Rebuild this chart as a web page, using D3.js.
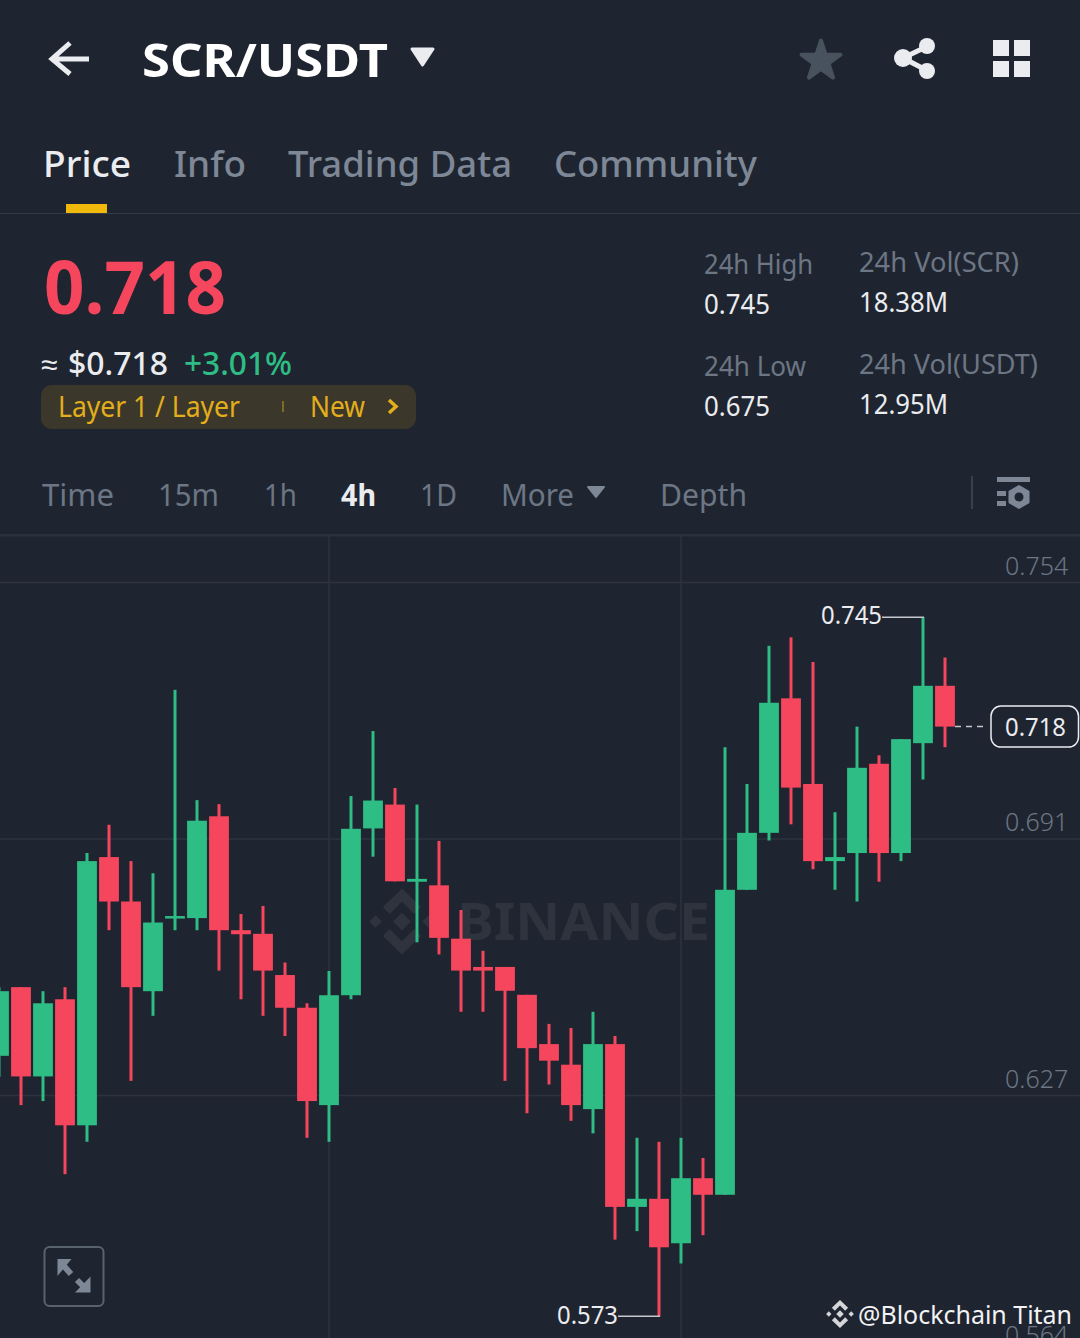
<!DOCTYPE html>
<html lang="en">
<head>
    <meta charset="utf-8" />
    <title>SCR/USDT</title>
    <script src="https://d3js.org/d3.v7.min.js"></script>
    <style>
        html, body { margin: 0; padding: 0; background: #1f2530; overflow: hidden; }
        svg { display: block; }
        text { font-family: "Noto Sans", sans-serif; }
    </style>
</head>
<body>
    <script>
        // 4h candles, oldest first
        const open  = [.6367,.6537,.6316,.6507,.6195,.6859,.6749,.6527,.6709,.6708,.6960,.6678,.6669,.6567,.6486,.6245,.6517,.6930,.6989,.6798,.6789,.6657,.6587,.6587,.6518,.6396,.6345,.6235,.6396,.5993,.6013,.5903,.6064,.6023,.6778,.6919,.7252,.7040,.6849,.6869,.7090,.6869,.7141,.7283];
        const high  = [.6537,.6537,.6527,.6537,.6869,.6939,.6849,.6819,.7273,.7000,.6990,.6718,.6738,.6598,.6497,.6577,.7010,.7171,.7030,.6989,.6899,.6728,.6627,.6587,.6518,.6446,.6436,.6476,.6416,.6164,.6154,.6164,.6114,.7131,.7040,.7382,.7403,.7342,.6970,.7182,.7111,.7151,.7453,.7353];
        const low   = [.6315,.6245,.6255,.6074,.6154,.6678,.6305,.6466,.6678,.6678,.6578,.6507,.6466,.6416,.6164,.6154,.6507,.6860,.6799,.6648,.6618,.6476,.6476,.6305,.6225,.6296,.6206,.6175,.5912,.5933,.5722,.5853,.5923,.6023,.6778,.6900,.6940,.6829,.6778,.6749,.6798,.6849,.7051,.7131];
        const close = [.6527,.6316,.6497,.6195,.6849,.6749,.6537,.6697,.6713,.6949,.6678,.6668,.6578,.6486,.6255,.6517,.6929,.6999,.6799,.6805,.6659,.6578,.6578,.6528,.6386,.6355,.6245,.6396,.5993,.6013,.5893,.6064,.6023,.6778,.6919,.7241,.7031,.6849,.6859,.7080,.6869,.7151,.7283,.7182];

        const tickValues = [0.754, 0.6905, 0.627, 0.5635];
        const tickLabels = ["0.754", "0.691", "0.627", "0.564"];
        const gridCandles = [15, 31];

        const maxLabel = "0.745";
        const minLabel = "0.573";
        const lastLabel = "0.718";

        const tabs = ["Price", "Info", "Trading Data", "Community"];
        const intervals = ["Time", "15m", "1h", "4h", "1D", "More", "Depth"];

        const width = 1080, height = 1338;
        const bg = "#1f2530", up = "#2ebd85", down = "#f6465d", white = "#eaecef";
        const grey = "#7d8796", dim = "#6c7684", gridColor = "#2d333e", gold = "#e3ae1c";

        const svg = d3.select("body").append("svg")
            .attr("width", width)
            .attr("height", height);

        svg.append("rect").attr("width", width).attr("height", height).attr("fill", bg);

        let label = (text, x, y, size, fill, opts = {}) => {
            const t = svg.append("text")
                .attr("x", x)
                .attr("y", y)
                .attr("font-size", size)
                .attr("font-weight", opts.weight || 400)
                .attr("fill", fill)
                .text(text);
            if (opts.w) t.attr("textLength", opts.w).attr("lengthAdjust", "spacingAndGlyphs");
            return t;
        };

        // the Binance mark, r is half its span
        let logo = (cx, cy, r, fill) => {
            const g = svg.append("g")
                .attr("transform", `translate(${cx},${cy}) scale(${r})`)
                .attr("fill", fill);
            g.append("path").attr("d", "M0-.27L.27 0L0 .27L-.27 0Z");
            g.append("path").attr("d", "M-.8-.19L-.61 0L-.8 .19L-.99 0Z");
            g.append("path").attr("d", "M.8-.19L.99 0L.8 .19L.61 0Z");
            g.append("path").attr("d", "M0-.6L-.37-.23L-.58-.44L0-1L.58-.44L.37-.23Z");
            g.append("path").attr("d", "M0 .6L-.37 .23L-.58 .44L0 1L.58 .44L.37 .23Z");
        };

        // top bar
        svg.append("path")
            .attr("d", "M89 59H53M70 43L52 59L70 74")
            .attr("fill", "none").attr("stroke", white).attr("stroke-width", 5);
        label("SCR/USDT", 142, 77, 47, "#ffffff", { weight: 700, w: 246 });
        svg.append("path")
            .attr("d", "M412 49H433L422.5 65Z")
            .attr("fill", white).attr("stroke", white).attr("stroke-width", 3).attr("stroke-linejoin", "round");
        svg.append("path")
            .attr("d", d3.symbol().type(d3.symbolStar).size(470)())
            .attr("transform", "translate(821,61)")
            .attr("fill", "#48525f").attr("stroke", "#48525f").attr("stroke-width", 4).attr("stroke-linejoin", "round");
        svg.append("path")
            .attr("d", "M928 46L903 58L928 71")
            .attr("fill", "none").attr("stroke", white).attr("stroke-width", 5);
        [[927, 46, 8], [903, 58, 9], [927, 71, 8]].forEach(c => {
            svg.append("circle").attr("cx", c[0]).attr("cy", c[1]).attr("r", c[2]).attr("fill", white);
        });
        [[993, 40, 16, 16], [1014, 40, 16, 16], [993, 61, 16, 16], [1014, 61, 16, 16]].forEach(r => {
            svg.append("rect").attr("x", r[0]).attr("y", r[1]).attr("width", r[2]).attr("height", r[3]).attr("fill", white);
        });

        // tabs
        const tabX = [43, 174, 288, 554], tabW = [88, 72, 224, 203];
        tabs.forEach((t, i) => {
            label(t, tabX[i], 177, 37, i === 0 ? white : grey, { weight: 500, w: tabW[i] });
        });
        svg.append("rect").attr("x", 66).attr("y", 204).attr("width", 41).attr("height", 9).attr("fill", "#f0b90b");
        svg.append("rect").attr("x", 0).attr("y", 213).attr("width", width).attr("height", 1).attr("fill", "#343a46");

        // price block
        label("0.718", 44, 314, 73, down, { weight: 700, w: 182 });
        label("≈", 41, 375, 30, white);
        label("$0.718", 68, 375, 32, white, { weight: 500, w: 100 });
        label("+3.01%", 184, 375, 32, up, { weight: 500, w: 108 });
        svg.append("rect").attr("x", 41).attr("y", 385).attr("width", 375).attr("height", 44).attr("rx", 11).attr("fill", "#3b382b");
        label("Layer 1 / Layer", 58, 417, 29, gold, { w: 182 });
        svg.append("rect").attr("x", 282).attr("y", 401).attr("width", 2).attr("height", 11).attr("fill", "#7d6a26");
        label("New", 310, 417, 29, gold, { w: 55 });
        svg.append("path")
            .attr("d", "M389 400L396 406.5L389 413")
            .attr("fill", "none").attr("stroke", gold).attr("stroke-width", 3.5);

        // 24h stats
        label("24h High", 704, 274, 28, dim, { w: 109 });
        label("0.745", 704, 314, 28, white, { w: 66 });
        label("24h Low", 704, 376, 28, dim, { w: 102 });
        label("0.675", 704, 416, 28, white, { w: 66 });
        label("24h Vol(SCR)", 859, 272, 28, dim, { w: 160 });
        label("18.38M", 859, 312, 28, white, { w: 89 });
        label("24h Vol(USDT)", 859, 374, 28, dim, { w: 179 });
        label("12.95M", 859, 414, 28, white, { w: 89 });

        // interval row
        const intX = [42, 158, 264, 341, 420, 501, 660], intW = [72, 61, 33, 35, 37, 73, 87];
        intervals.forEach((t, i) => {
            const active = t === "4h";
            label(t, intX[i], 506, 31, active ? white : dim, { weight: active ? 700 : 400, w: intW[i] });
        });
        svg.append("path")
            .attr("d", "M588 487H604L596 497Z")
            .attr("fill", grey).attr("stroke", grey).attr("stroke-width", 2).attr("stroke-linejoin", "round");
        svg.append("rect").attr("x", 971).attr("y", 476).attr("width", 2).attr("height", 33).attr("fill", "#39404c");
        [[997, 477, 33, 5], [997, 491, 9, 5], [997, 501, 9, 5]].forEach(r => {
            svg.append("rect").attr("x", r[0]).attr("y", r[1]).attr("width", r[2]).attr("height", r[3]).attr("fill", grey);
        });
        svg.append("path")
            .attr("d", d3.line().curve(d3.curveLinearClosed)(d3.range(6).map(k => {
                const a = Math.PI / 6 + k * Math.PI / 3;
                return [1019 + 11 * Math.cos(a), 497 + 11 * Math.sin(a)];
            })))
            .attr("fill", grey).attr("stroke", grey).attr("stroke-width", 2).attr("stroke-linejoin", "round");
        svg.append("circle").attr("cx", 1019).attr("cy", 497).attr("r", 4.5).attr("fill", bg);
        svg.append("rect").attr("x", 0).attr("y", 534).attr("width", width).attr("height", 2.5).attr("fill", "#2b313c");

        // scales
        const candles = d3.range(open.length);
        const x = d3.scaleBand()
            .domain(candles)
            .range([-12, 956])
            .paddingInner(0.1)
            .paddingOuter(0.05);
        const y = d3.scaleLinear().domain([0.627, 0.754]).range([1095, 582]);

        // price axis, its ticks run the full width as grid lines
        const yAxis = d3.axisLeft(y)
            .tickValues(tickValues)
            .tickFormat((d, i) => tickLabels[i])
            .tickSize(width);
        const yG = svg.append("g")
            .attr("id", "y-axis")
            .attr("transform", `translate(${width},0)`)
            .call(yAxis);
        yG.select(".domain").remove();
        yG.selectAll("line").attr("stroke", gridColor).attr("stroke-width", 1.5);
        yG.selectAll("text")
            .attr("x", -75)
            .attr("dy", -8)
            .attr("text-anchor", "start")
            .attr("font-family", "Roboto, sans-serif")
            .attr("font-size", 25)
            .attr("font-weight", 300)
            .attr("fill", "#6c7684");

        // vertical grid from the candle axis, no labels on it here
        const xAxis = d3.axisBottom(x)
            .tickValues(gridCandles)
            .tickFormat("")
            .tickSize(-(height - 536));
        const xG = svg.append("g")
            .attr("id", "x-axis")
            .attr("transform", `translate(0,${height})`)
            .call(xAxis);
        xG.select(".domain").remove();
        xG.selectAll("line").attr("stroke", gridColor).attr("stroke-width", 1.5);

        // watermark
        logo(402, 921.5, 33, "#2e333e");
        label("BINANCE", 457, 940, 52, "#2e333e", { weight: 700, w: 253 });

        // candles
        const color = i => close[i] >= open[i] ? up : down;
        svg.selectAll(".wick")
            .data(candles)
            .enter()
            .append("line")
            .attr("class", "wick")
            .attr("x1", i => x(i) + x.bandwidth() / 2)
            .attr("x2", i => x(i) + x.bandwidth() / 2)
            .attr("y1", i => y(high[i]))
            .attr("y2", i => y(low[i]))
            .attr("stroke", color)
            .attr("stroke-width", 3);
        svg.selectAll(".body")
            .data(candles)
            .enter()
            .append("rect")
            .attr("class", "body")
            .attr("x", i => x(i))
            .attr("y", i => y(Math.max(open[i], close[i])))
            .attr("width", x.bandwidth())
            .attr("height", i => Math.max(2.5, Math.abs(y(open[i]) - y(close[i]))))
            .attr("fill", color);

        // high / low call-outs
        const cx = i => x(i) + x.bandwidth() / 2;
        const iMax = d3.maxIndex(high), iMin = d3.minIndex(low);
        const leaderColor = "#c4c8ce";
        svg.append("line")
            .attr("x1", cx(iMax) - 41).attr("x2", cx(iMax) + 1)
            .attr("y1", y(high[iMax])).attr("y2", y(high[iMax]))
            .attr("stroke", leaderColor).attr("stroke-width", 1.5);
        svg.append("line")
            .attr("x1", cx(iMin) - 41).attr("x2", cx(iMin) + 1)
            .attr("y1", y(low[iMin])).attr("y2", y(low[iMin]))
            .attr("stroke", leaderColor).attr("stroke-width", 1.5);
        label(maxLabel, cx(iMax) - 102, y(high[iMax]) + 7, 25, white, { w: 61 })
            .attr("font-family", "Roboto, sans-serif");
        label(minLabel, cx(iMin) - 102, y(low[iMin]) + 8, 25, white, { w: 61 })
            .attr("font-family", "Roboto, sans-serif");

        // last price tag
        const lastY = y(close[close.length - 1]);
        svg.append("line")
            .attr("x1", cx(candles.length - 1) + 10).attr("x2", 984)
            .attr("y1", lastY).attr("y2", lastY)
            .attr("stroke", leaderColor).attr("stroke-width", 1.5)
            .attr("stroke-dasharray", "6 5");
        svg.append("rect")
            .attr("x", 991).attr("y", lastY - 20.5)
            .attr("width", 87.5).attr("height", 41).attr("rx", 10)
            .attr("fill", bg).attr("stroke", white).attr("stroke-width", 1.5);
        label(lastLabel, 1005, lastY + 9, 25, white, { w: 61 })
            .attr("font-family", "Roboto, sans-serif");

        // full screen button
        svg.append("rect")
            .attr("x", 44.5).attr("y", 1247)
            .attr("width", 59).attr("height", 59).attr("rx", 5)
            .attr("fill", "none").attr("stroke", "#59626f").attr("stroke-width", 2);
        svg.append("path")
            .attr("d", "M57.5 1259H71.5L57.5 1276ZM90.5 1292.5H75L90.5 1276.5Z")
            .attr("fill", grey);
        svg.append("path")
            .attr("d", "M63 1265L71 1274M77 1280L85 1288")
            .attr("stroke", grey).attr("stroke-width", 6);

        // source tag
        logo(840, 1314, 14, "#d4d6da");
        label("@Blockchain Titan", 858, 1324, 26, "#f2f3f5", { w: 214 });
    </script>
</body>
</html>
